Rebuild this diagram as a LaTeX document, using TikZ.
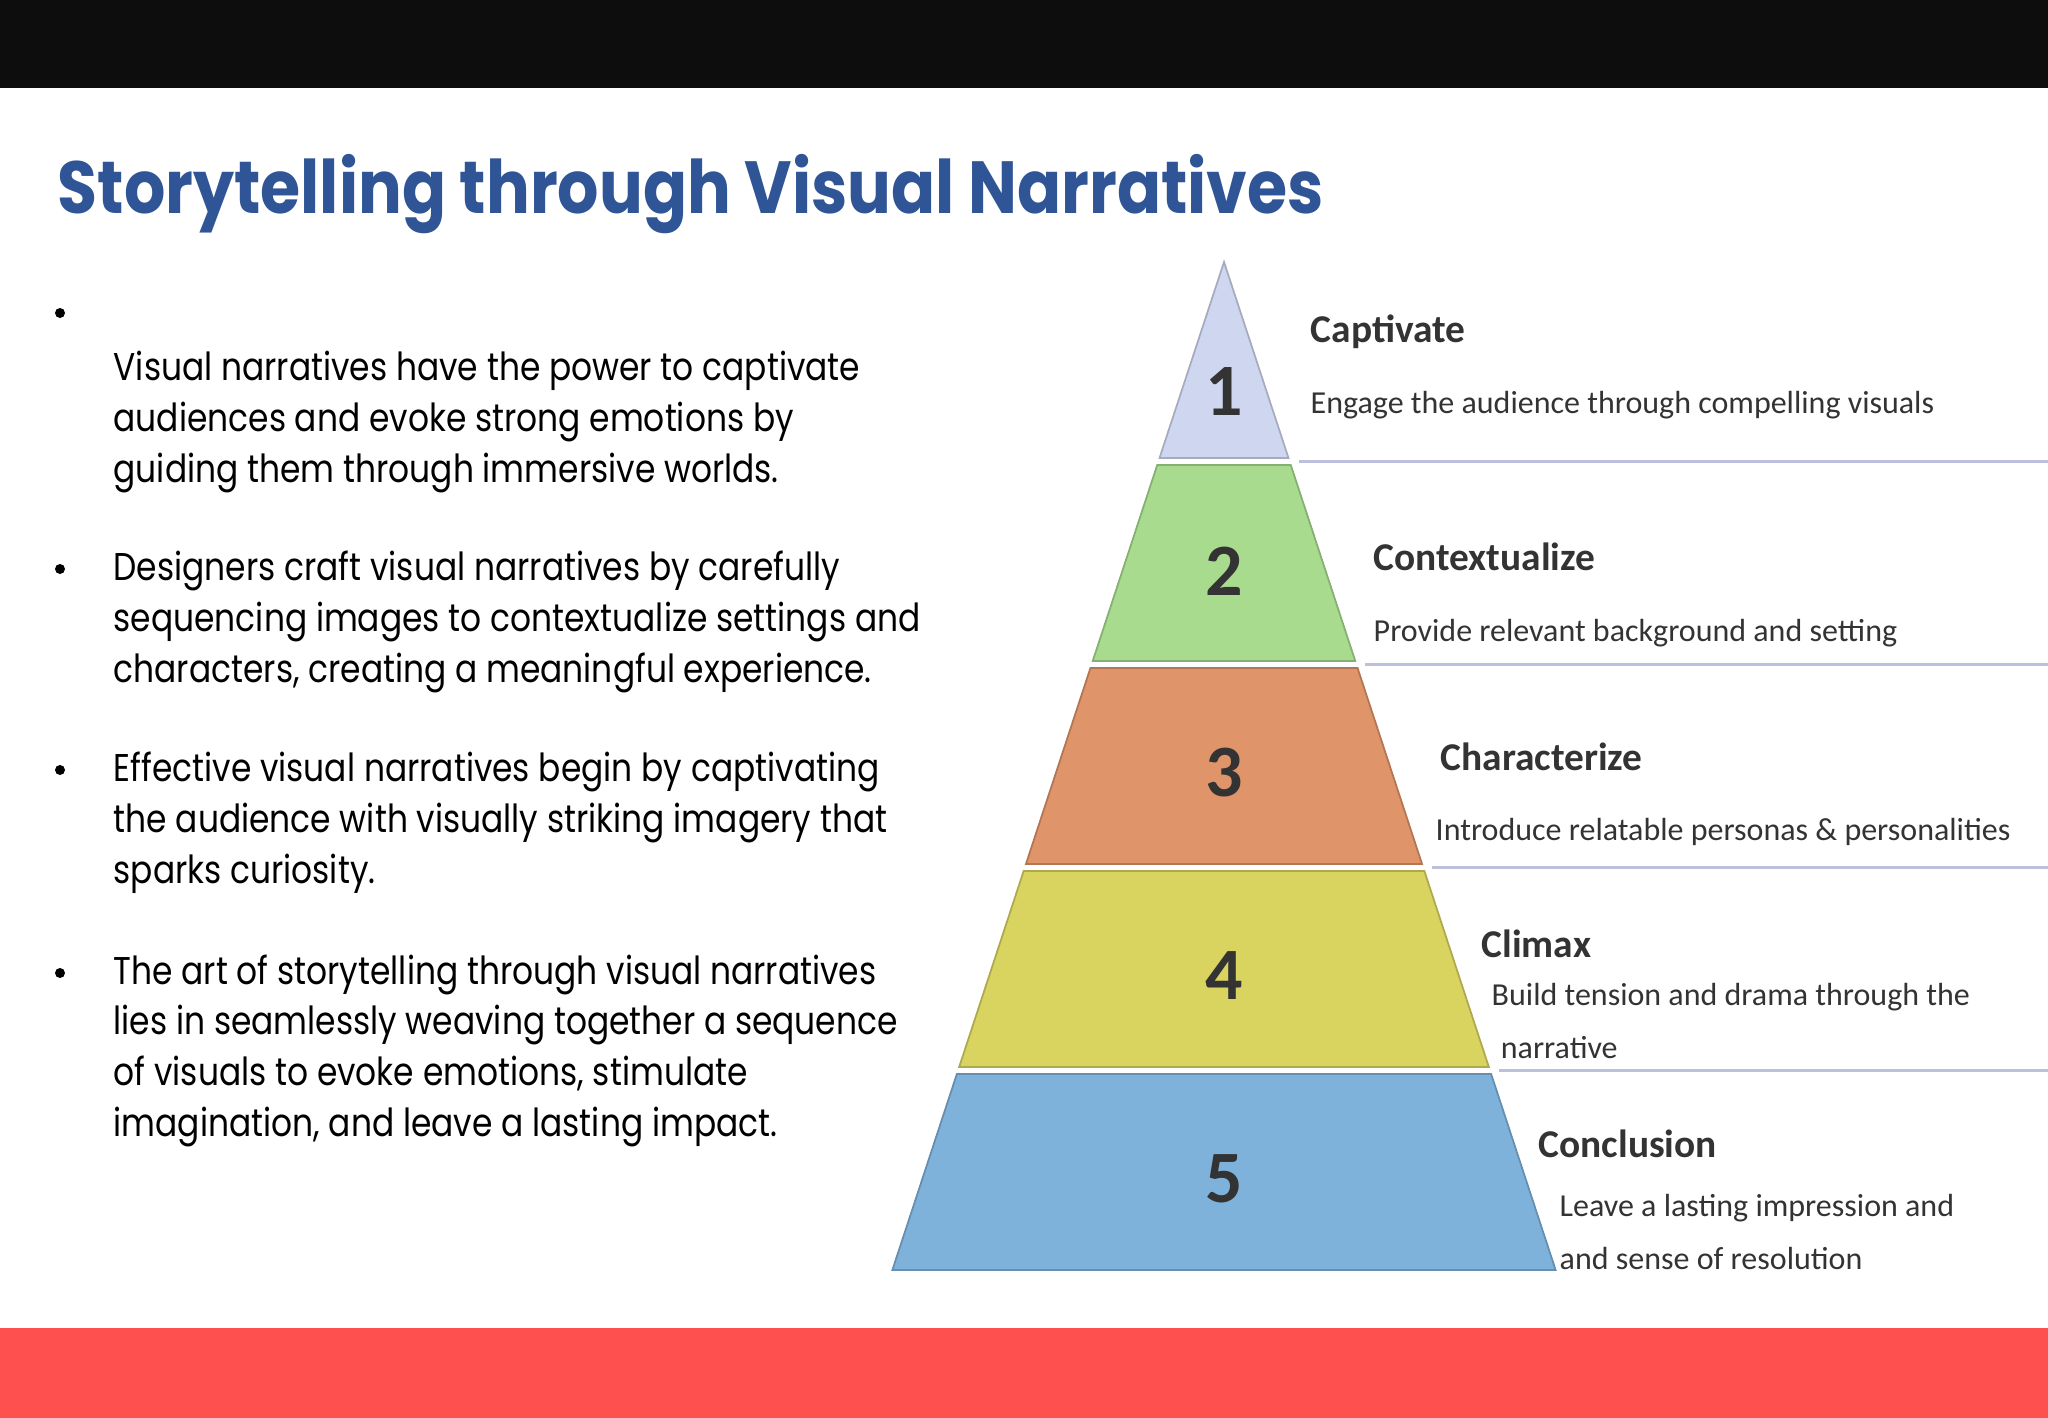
\documentclass[tikz,border=0pt]{standalone}
\usepackage{fontspec}
\setmainfont{Carlito}
\newfontfamily\geofont[FakeStretch=0.85]{Poppins}
\newfontfamily\titlefont[FakeStretch=0.88]{Poppins}
\usepackage{tikz}
\usetikzlibrary{positioning}
\definecolor{TopBand}{HTML}{0D0D0D}
\definecolor{BotBand}{HTML}{FF5050}
\definecolor{TitleBlue}{HTML}{2F5597}
\definecolor{LvOne}{HTML}{CFD6EF}
\definecolor{LvTwo}{HTML}{A8DB8E}
\definecolor{LvThree}{HTML}{DF9469}
\definecolor{LvFour}{HTML}{D9D35F}
\definecolor{LvFive}{HTML}{7FB2DB}
\definecolor{SepLine}{HTML}{BCC0DE}
\definecolor{LabelGrey}{HTML}{333333}

\begin{document}
\begin{tikzpicture}[
  x=0.01cm, y=-0.01cm,
  title/.style={anchor=base west, inner sep=0pt, text=TitleBlue,
    font=\titlefont\bfseries\fontsize{21}{25}\selectfont},
  body/.style={anchor=base west, inner sep=0pt, align=left,
    font=\geofont\fontsize{11}{14.4}\selectfont},
  bul/.style={circle, fill=black, inner sep=0pt, minimum size=0.1cm},
  num/.style={inner sep=0pt, text=LabelGrey,
    font=\bfseries\fontsize{21}{25}\selectfont},
  head/.style={anchor=base west, inner sep=0pt, text=LabelGrey,
    font=\bfseries\fontsize{11.2}{13}\selectfont},
  desc/.style={anchor=base west, inner sep=0pt, align=left, text=LabelGrey,
    font=\fontsize{9.1}{14.8}\selectfont},
  level/.style={line width=0.5pt},
  sepline/.style={draw=SepLine, line width=1pt},
]
\useasboundingbox (0,0) rectangle (2048,1418);

% Bands
\fill[TopBand] (0,0) rectangle (2048,88);
\fill[BotBand] (0,1328) rectangle (2048,1418);

% Title
\node[title] (title) at (57,213) {Storytelling through Visual Narratives};

% Bullet text (nodes sit on the baseline of their last line)
\node[bul] (b1) at (60,313) {};
\node[body] (p1) at (113,482) {Visual narratives have the power to captivate\\audiences and evoke strong emotions by\\guiding them through immersive worlds.};
\node[bul] (b2) at (60,569) {};
\node[body] (p2) at (113,682) {Designers craft visual narratives by carefully\\sequencing images to contextualize settings and\\characters, creating a meaningful experience.};
\node[bul] (b3) at (60,770) {};
\node[body] (p3) at (113,883) {Effective visual narratives begin by captivating\\the audience with visually striking imagery that\\sparks curiosity.};
\node[bul] (b4) at (60,973) {};
\node[body] (p4) at (113,1136) {The art of storytelling through visual narratives\\lies in seamlessly weaving together a sequence\\of visuals to evoke emotions, stimulate\\imagination, and leave a lasting impact.};

% Pyramid
\foreach \i/\col in {1/LvOne,2/LvTwo,3/LvThree,4/LvFour,5/LvFive}{
  \pgfmathsetmacro\ytop{262+(\i-1)*203}
  \pgfmathsetmacro\ybot{\ytop+196}
  \pgfmathsetmacro\wtop{0.329*(\ytop-262)}
  \pgfmathsetmacro\wbot{0.329*(\ybot-262)}
  \filldraw[level, fill=\col, draw=\col!80!black]
    ({1224-\wtop},\ytop) -- ({1224+\wtop},\ytop) -- ({1224+\wbot},\ybot) -- ({1224-\wbot},\ybot) -- cycle;
}
\foreach \i in {1,...,4}{
  \pgfmathsetmacro\ysep{262+\i*203-3.5}
  \pgfmathsetmacro\xsep{1224+0.329*(\ysep-262)+9}
  \draw[sepline] (\xsep,\ysep) -- (2048,\ysep);
}
\foreach \i/\yy in {1/392,2/571,3/773,4/976,5/1179}
  \node[num] (n\i) at (1224,\yy) {\i};

% Labels
\node[head] (h1) at (1310,342) {Captivate};
\node[desc] (d1) at (1310,413) {Engage the audience through compelling visuals};
\node[head] (h2) at (1373,570) {Contextualize};
\node[desc] (d2) at (1373,641) {Provide relevant background and setting};
\node[head] (h3) at (1440,770) {Characterize};
\node[desc] (d3) at (1435,840) {Introduce relatable personas \& personalities};
\node[head] (h4) at (1481,957) {Climax};
\node[desc] (d4) at (1491,1058) {Build tension and drama through the\\\hspace{0.6ex}narrative};
\node[head] (h5) at (1538,1157) {Conclusion};
\node[desc] (d5) at (1559,1269) {Leave a lasting impression and\\and sense of resolution};

\end{tikzpicture}
\end{document}
